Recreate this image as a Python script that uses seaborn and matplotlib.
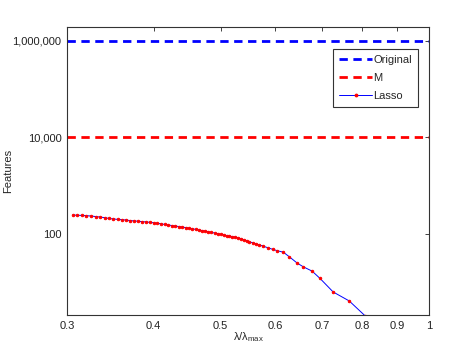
import numpy as np
import pandas as pd
import matplotlib
matplotlib.use('Agg')
from matplotlib import pyplot as plt
from matplotlib.lines import Line2D
from matplotlib.ticker import FixedLocator, FixedFormatter, NullLocator
import seaborn as sns

# reference lines
ref_x = [0.3, 1.0]
original_y = [1e6, 1e6]
m_y = [1e4, 1e4]

# lasso path
lasso_lambda = [0.306, 0.31, 0.315, 0.32, 0.325, 0.33, 0.335, 0.34, 0.345, 0.35,
                0.355, 0.36, 0.365, 0.37, 0.375, 0.38, 0.385, 0.39, 0.395, 0.40,
                0.405, 0.41, 0.415, 0.42, 0.425, 0.43, 0.435, 0.44, 0.445, 0.45,
                0.455, 0.46, 0.465, 0.47, 0.475, 0.48, 0.485, 0.49, 0.495, 0.50,
                0.505, 0.51, 0.515, 0.52, 0.525, 0.53, 0.535, 0.54, 0.545, 0.55,
                0.556, 0.563, 0.568, 0.576, 0.585, 0.595, 0.604, 0.616, 0.628, 0.645,
                0.658, 0.678, 0.696, 0.727, 0.767, 0.809]
lasso_features = [247, 245, 243, 240, 236, 230, 225, 218, 210, 205,
                  201, 198, 195, 190, 187, 184, 181, 178, 175, 171,
                  167, 163, 158, 154, 150, 146, 143, 139, 136, 132,
                  128, 125, 121, 118, 115, 111, 108, 105, 102, 99,
                  96, 93, 91, 88, 86, 83, 80, 76, 73, 69,
                  66, 62, 60, 56, 52, 48, 45, 42, 34, 25,
                  21, 17, 12, 6.3, 4.1, 2.0]

x_ticks = [0.3, 0.4, 0.5, 0.6, 0.7, 0.8, 0.9, 1.0]
x_labels = ['0.3', '0.4', '0.5', '0.6', '0.7', '0.8', '0.9', '1']
y_ticks = [100, 10000, 1000000]
y_labels = ['100', '10,000', '1,000,000']

sns.set_style('white')
plt.rcParams['font.family'] = ['Liberation Sans', 'DejaVu Sans']
plt.rcParams['font.size'] = 8

fig = plt.figure(figsize=(4.74, 3.55), dpi=100)
ax = fig.add_axes([0.1414, 0.1127, 0.7637, 0.8113])

blue = '#0000ff'
red = '#ff0000'
sns.lineplot(x=ref_x, y=original_y, ax=ax, color=blue, linewidth=2.0,
             dashes=(3, 2))
sns.lineplot(x=ref_x, y=m_y, ax=ax, color=red, linewidth=2.0,
             dashes=(3, 2))
sns.lineplot(x=lasso_lambda, y=lasso_features, ax=ax, color=blue, linewidth=0.7,
             marker='.', markersize=3.5, markerfacecolor=red,
             markeredgecolor=red)

ax.set_xscale('log')
ax.set_yscale('log')
ax.set_xlim(0.3, 1.0)
ax.set_ylim(2.1, 1.95e6)

ax.xaxis.set_major_locator(FixedLocator(x_ticks))
ax.xaxis.set_major_formatter(FixedFormatter(x_labels))
ax.xaxis.set_minor_locator(NullLocator())
ax.yaxis.set_major_locator(FixedLocator(y_ticks))
ax.yaxis.set_major_formatter(FixedFormatter(y_labels))
ax.yaxis.set_minor_locator(NullLocator())

ax.tick_params(direction='in', length=3, width=0.6, top=True, right=True,
               labelsize=8, colors='#222222', pad=4)
for s in ax.spines.values():
    s.set_color('#333333')
    s.set_linewidth(0.8)

ax.set_xlabel(r'$\mathregular{\lambda/\lambda_{max}}$', fontsize=8)
ax.xaxis.set_label_coords(0.5, -0.052)
ax.set_ylabel('Features', fontsize=8)
ax.yaxis.set_label_coords(-0.15, 0.5)

handles = [
    Line2D([], [], color=blue, linewidth=2.0, dashes=(3, 2)),
    Line2D([], [], color=red, linewidth=2.0, dashes=(3, 2)),
    Line2D([], [], color=blue, linewidth=0.7, marker='.', markersize=3.5,
           markerfacecolor=red, markeredgecolor=red, markevery=[1]),
]
leg = ax.legend(handles, ['Original', 'M', 'Lasso'], loc='upper right',
                bbox_to_anchor=(0.97, 0.925), fontsize=8,
                frameon=True, fancybox=False, framealpha=1, borderpad=0.55,
                handlelength=3.0, labelspacing=0.75, handletextpad=0.1,
                borderaxespad=0)
leg.get_frame().set_edgecolor('#333333')
leg.get_frame().set_linewidth(0.8)

plt.savefig('out.png', dpi=100)
